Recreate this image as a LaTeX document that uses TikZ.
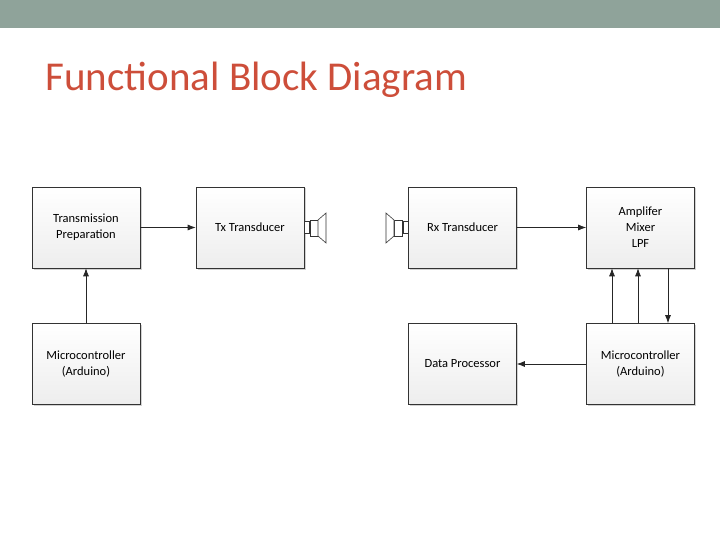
\documentclass[tikz,border=0pt]{standalone}
\usepackage{fontspec}
\setmainfont{Carlito}
\usetikzlibrary{shadows,arrows.meta}
\definecolor{titlered}{RGB}{205,78,58}
\definecolor{barcol}{RGB}{143,163,154}
\tikzset{
  block/.style={draw=black!80, line width=0.6pt, minimum width=108pt, minimum height=81pt,
    top color=white, bottom color=black!7, align=center, font=\fontsize{12.5}{16}\selectfont,
    drop shadow={shadow xshift=1.5pt, shadow yshift=-1.5pt, fill=black!35}},
  link/.style={draw=black!85, line width=0.8pt, -{Latex[length=8pt,width=6pt]}},
  spk/.style={draw=black!80, line width=0.6pt, fill=white}
}
\begin{document}
\begin{tikzpicture}[x=1pt,y=-1pt]
\useasboundingbox (0,0) rectangle (720,540);
\fill[barcol] (0,0) rectangle (720,28);
\node[anchor=west, text=titlered, font=\fontsize{41}{44}\selectfont] (title) at (42,80) {Functional Block Diagram};
% blocks
\node[block] (prep) at (86,227.5) {Transmission\\Preparation};
\node[block] (tx) at (250,227.5) {Tx Transducer};
\node[block] (rx) at (462.5,227.5) {Rx Transducer};
\node[block] (amp) at (640.5,227.5) {Amplifer\\Mixer\\LPF};
\node[block] (mcl) at (86,364) {Microcontroller\\(Arduino)};
\node[block] (dp) at (462.5,364) {Data Processor};
\node[block] (mcr) at (640.5,364) {Microcontroller\\(Arduino)};
% speakers
\draw[spk] (tx.east) ++(0,-6) rectangle ++(5,12);
\draw[spk] (310,220) rectangle (318,236);
\draw[spk] (318,220) -- (326,213) -- (326,243) -- (318,236) -- cycle;
\draw[spk] (rx.west) ++(0,-6) rectangle ++(-5,12);
\draw[spk] (394,220) rectangle (402,236);
\draw[spk] (394,220) -- (386,213) -- (386,243) -- (394,236) -- cycle;
% links
\draw[link] (prep) -- (tx);
\draw[link] (mcl) -- (prep);
\draw[link] (rx) -- (amp);
\draw[link] (mcr.north -| 612,0) -- (amp.south -| 612,0);
\draw[link] (mcr.north -| 638,0) -- (amp.south -| 638,0);
\draw[link] (amp.south -| 668,0) -- (mcr.north -| 668,0);
\draw[link] (mcr) -- (dp);
\end{tikzpicture}
\end{document}
